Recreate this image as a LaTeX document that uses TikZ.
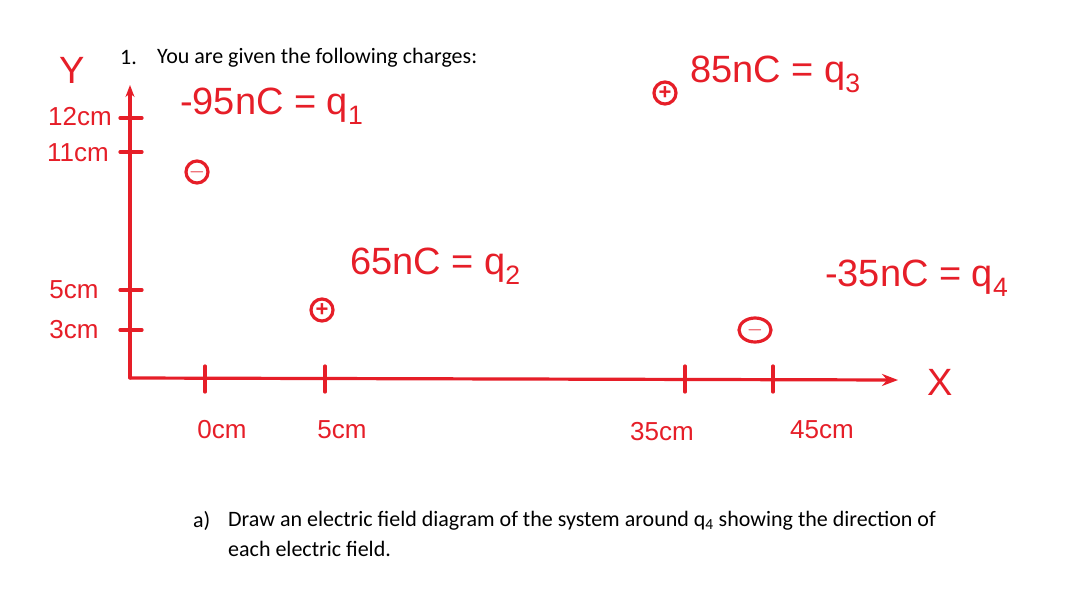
\documentclass[tikz,border=0pt]{standalone}
\usetikzlibrary{arrows.meta,shapes.geometric}
\usepackage{fontspec}
\setmainfont{Carlito}
\newfontfamily\hand{Liberation Sans}
\definecolor{ink}{RGB}{230,30,40}
\newcommand{\subq}[1]{\textsubscript{#1}}
\begin{document}
\begin{tikzpicture}[x=1pt,y=-1pt,
  pen/.style={draw=ink,line width=3.2pt,line cap=round,line join=round},
  hw/.style={text=ink,font=\hand\fontsize{38}{40}\selectfont,inner sep=0pt},
  hws/.style={text=ink,font=\hand\fontsize{26}{28}\selectfont,inner sep=0pt},
  sign/.style={pen,circle,minimum size=22pt,inner sep=0pt,text=ink,font=\hand\fontsize{22}{22}\selectfont\bfseries},
  pr/.style={font=\fontsize{22}{26}\selectfont,inner sep=0pt,anchor=west}]
\useasboundingbox (0,0) rectangle (1075,592);
\fill[white] (0,0) rectangle (1075,592);
% axes
\coordinate (O) at (130,378);
\coordinate (Ytop) at (130,85);
\coordinate (Xend) at (898,380);
\draw[pen,-{Stealth[length=12pt,open]}] (O) -- (Ytop);
\draw[pen,-{Stealth[length=16pt,open]}] (O) -- (Xend);
% y ticks
\foreach \yy in {118,152,290,330} \draw[pen] (120,\yy) -- (142,\yy);
% x ticks
\foreach \xx in {205,325,685,773} \draw[pen] (\xx,366) -- (\xx,392);
% axis labels
\node[hw] (Y) at (72,70) {Y};
\node[hws] (l12) at (80,117) {12cm};
\node[hws] (l11) at (78,153) {11cm};
\node[hws] (l5) at (74,290) {5cm};
\node[hws] (l3) at (74,330) {3cm};
\node[hws] (x0) at (222,430) {0cm};
\node[hws] (x5) at (342,430) {5cm};
\node[hws] (x35) at (662,432) {35cm};
\node[hws] (x45) at (822,430) {45cm};
\node[hw] (X) at (940,382) {X};
% charges
\node[sign] (c1) at (197,172) {$-$};
\node[hw,anchor=west] (t1) at (180,106) {-95nC = q\subq{1}};
\node[sign] (c3) at (665,93) {+};
\node[hw,anchor=west] (t3) at (690,74) {85nC = q\subq{3}};
\node[sign] (c2) at (322,310) {+};
\node[hw,anchor=west] (t2) at (350,266) {65nC = q\subq{2}};
\node[sign,ellipse,minimum width=32pt,minimum height=24pt] (c4) at (755,330) {$-$};
\node[hw,anchor=west] (t4) at (825,278) {-35nC = q\subq{4}};
% printed text
\node[pr] (n1) at (120,58) {1.};
\node[pr] (q) at (157,58) {You are given the following charges:};
\node[pr] (na) at (193,521) {a)};
\node[pr] (a1) at (228,521) {Draw an electric field diagram of the system around q\textsubscript{4} showing the direction of};
\node[pr] (a2) at (228,549) {each electric field.};
\end{tikzpicture}
\end{document}
